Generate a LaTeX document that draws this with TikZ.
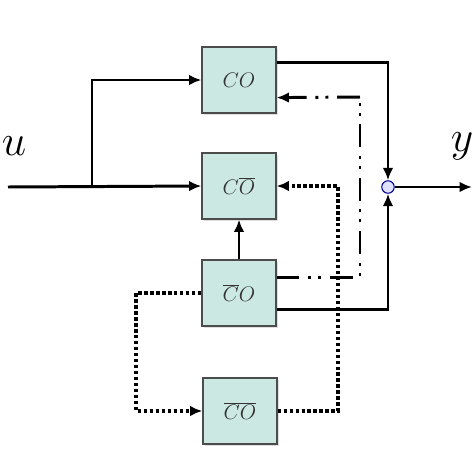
\documentclass[tikz,border=0pt]{standalone}
\usetikzlibrary{arrows.meta,calc,shadows}

\begin{document}
\begin{tikzpicture}[x=0.02cm, y=-0.02cm, >={Latex[length=7pt,width=6pt]},
  line join=miter,
  blk/.style={draw=black!70, line width=0.7pt, fill={rgb,255:red,204;green,232;blue,226},
    minimum width=1.48cm, minimum height=1.32cm, inner sep=0pt, font=\large,
    text=black!80,
    drop shadow={shadow xshift=1.2pt, shadow yshift=-1.2pt, fill=black!25}},
  sig/.style={line width=1.7pt},
  dashdot/.style={line width=1.7pt, dash pattern=on 13pt off 5pt on 1.7pt off 4pt on 1.7pt off 5pt},
  dotsig/.style={line width=1.9pt, dash pattern=on 1.9pt off 1.5pt},
  sumpt/.style={circle, draw=blue!60!black, fill=blue!12, line width=0.6pt,
    minimum size=0.25cm, inner sep=0pt}]
\useasboundingbox (0,0) rectangle (474,474);

% ---------- blocks ----------
\node[blk] (co)   at (239,80)  {$CO$};
\node[blk] (cob)  at (239,186) {$C\overline{O}$};
\node[blk] (cbo)  at (239,293) {$\overline{C}O$};
\node[blk] (cbob) at (240,411) {$\overline{CO}$};

% ---------- summing point ----------
\node[sumpt] (sum) at (388,187) {};

% ---------- input / output ----------
\coordinate (in)  at (8,187);
\coordinate (br)  at (92,187);
\coordinate (out) at (472,187);
\node[font=\fontsize{36}{40}\selectfont, inner sep=0pt] (ulab) at (14,146) {$u$};
\node[font=\fontsize{36}{40}\selectfont, inner sep=0pt] (ylab) at (462,146) {$y$};

\draw[sig,->] (in) -- (cob.west);
\draw[sig,->] (br) |- (co.west);
\draw[sig,->] (sum) -- (out);

% ---------- direct paths to the sum ----------
\draw[sig,->] ($(co.north east)+(0,16)$) -| (sum.north);
\draw[sig,->] ($(cbo.south east)+(0,-17)$) -| (sum.south);
\draw[sig,->] (cbo.north) -- (cob.south);

% ---------- dash-dot feedback ----------
\coordinate (dd) at (360,97);
\draw[dashdot] ($(cbo.north east)+(0,18)$) -| (dd);
\draw[dashdot,->] (dd) -- ($(co.south east)+(0,-16)$);

% ---------- dotted loop ----------
\coordinate (dl) at (136,293);
\coordinate (dr) at (338,411);
\draw[dotsig,->] (cbo.west) -- (dl) |- (cbob.west);
\draw[dotsig,->] (cbob.east) -- (dr) |- (cob.east);

\end{tikzpicture}
\end{document}
